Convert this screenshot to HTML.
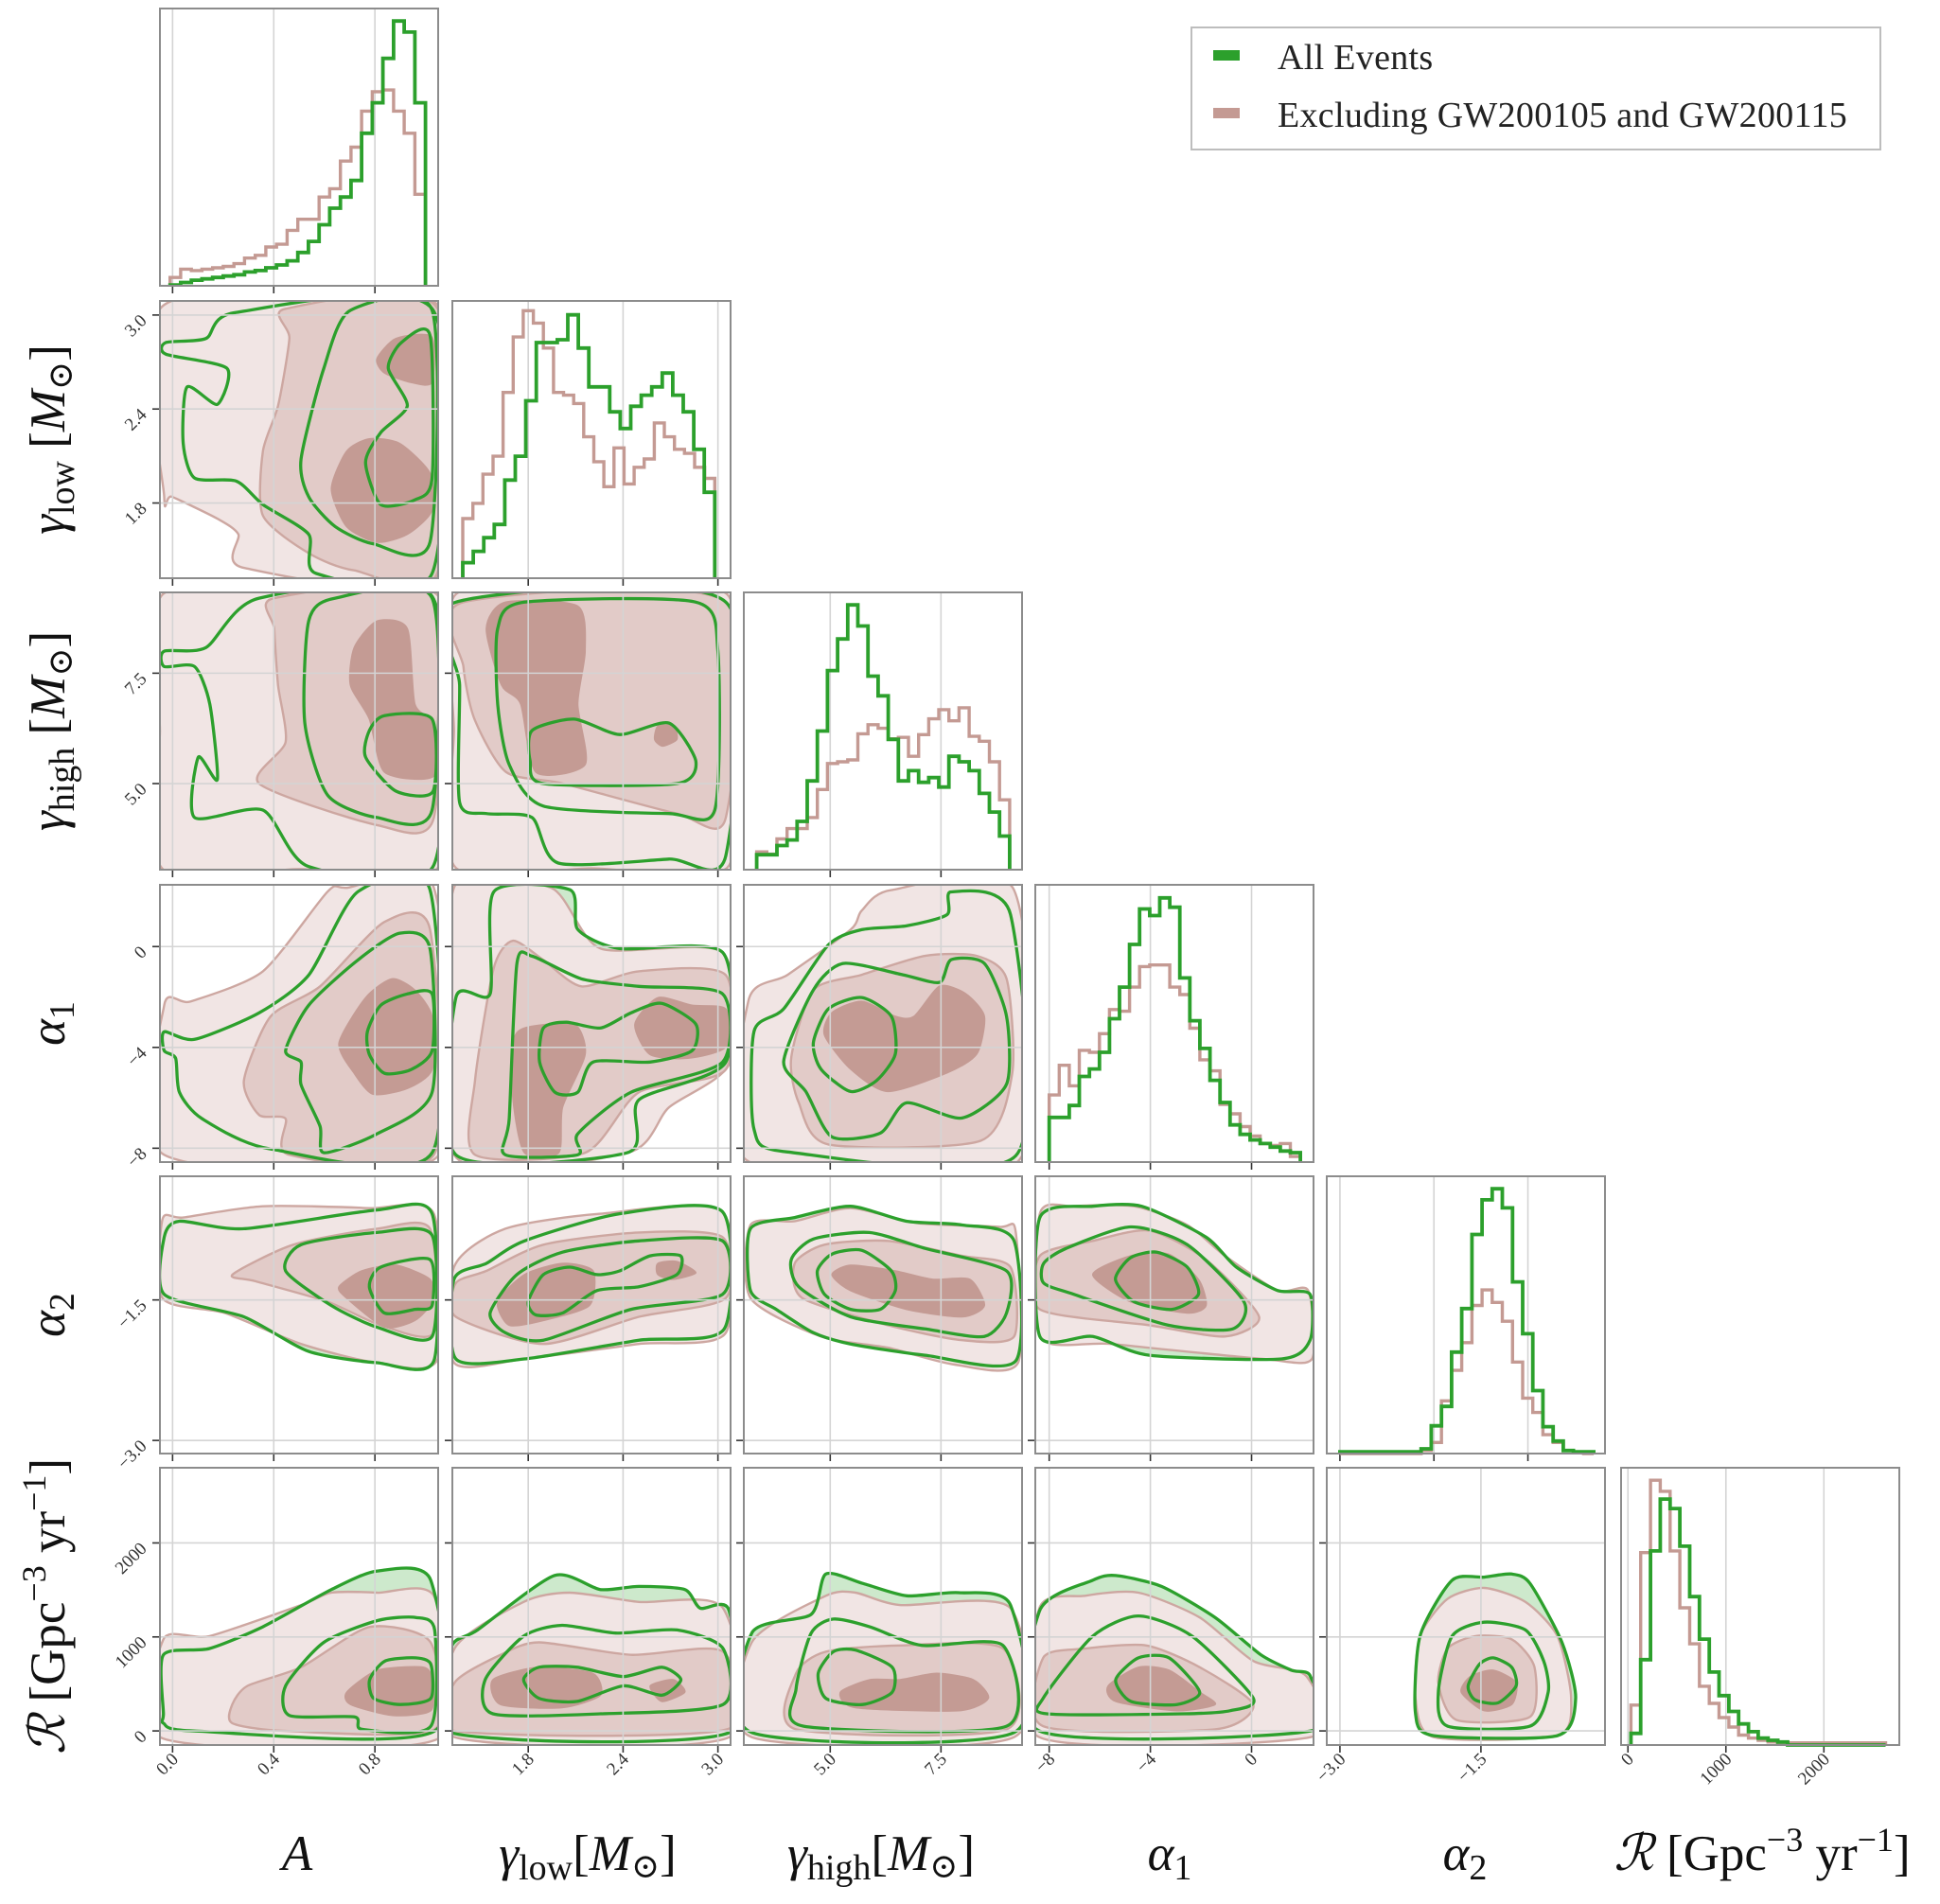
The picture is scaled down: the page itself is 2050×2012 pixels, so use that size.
<!DOCTYPE html>
<html><head><meta charset="utf-8"><title>Corner plot</title>
<style>
html,body{margin:0;padding:0;background:#fff;}
svg{display:block;font-family:"Liberation Serif","DejaVu Serif",serif;}
</style></head>
<body>
<svg id="chart" xmlns="http://www.w3.org/2000/svg" width="2050" height="2012" viewBox="0 0 2050 2012">
<rect x="0" y="0" width="2050" height="2012" fill="#fff"/>
<g id="panels"></g>
<g id="labels"></g>
<g id="legend">
  <rect x="1259" y="29" width="728" height="129" fill="#fff" stroke="#bdbdbd" stroke-width="2"/>
  <g>
    <rect x="1282" y="53" width="28" height="11" fill="#2ca02c"/>
    <text x="1350" y="73" font-size="38" letter-spacing="0.3" fill="#222">All Events</text>
  </g>
  <g>
    <rect x="1282" y="114" width="28" height="11" fill="#c49a93"/>
    <text x="1350" y="134" font-size="38" letter-spacing="0.3" fill="#222">Excluding GW200105 and GW200115</text>
  </g>
</g>
</svg>
<script>
const paramNames = ["A","gl","gh","a1","a2","R"];
const xRanges = [[-0.05,1.05],[1.32,3.08],[3.05,9.33],[-8.55,2.45],[-3.14,-0.18],[-70,2770]];
const yRanges = [[0,1],[1.32,3.09],[3.05,9.33],[-8.55,2.45],[-3.14,-0.18],[-150,2800]];
const tickVals = [[0,0.4,0.8],[1.8,2.4,3.0],[5.0,7.5],[-8,-4,0],[-3.0,-1.5],[0,1000,2000]];
const tickLabels = [["0.0","0.4","0.8"],["1.8","2.4","3.0"],["5.0","7.5"],["\u22128","\u22124","0"],["\u22123.0","\u22121.5"],["0","1000","2000"]];
const histGridVals = [[0,0.4,0.8],[1.8,2.4,3.0],[5.0,7.5],[-8,-4,0],[-3,-2,-1],[0,1000,2000]];

const histRanges = [[-0.01,1.0],[1.386,2.98],[3.34,9.05],[-8,1.93],[-3.0,-0.3],[30,2630]];
const histGreen_A = [0.003,0.012,0.02,0.025,0.03,0.035,0.04,0.05,0.055,0.065,0.075,0.09,0.12,0.16,0.22,0.28,0.32,0.38,0.55,0.66,0.82,0.955,0.915,0.66];
const histPink_A = [0.03,0.06,0.055,0.06,0.065,0.07,0.08,0.1,0.11,0.14,0.15,0.2,0.24,0.24,0.32,0.35,0.45,0.5,0.63,0.7,0.706,0.63,0.55,0.33];
const histGreen_gl = [0.056,0.097,0.146,0.194,0.354,0.44,0.64,0.85,0.85,0.86,0.95,0.83,0.69,0.69,0.6,0.54,0.62,0.66,0.69,0.74,0.66,0.6,0.465,0.31];
const histPink_gl = [0.215,0.27,0.375,0.44,0.67,0.87,0.965,0.92,0.83,0.67,0.66,0.63,0.51,0.42,0.33,0.47,0.34,0.4,0.43,0.56,0.51,0.465,0.45,0.40,0.36];
const histGreen_gh = [0.054,0.054,0.087,0.107,0.174,0.32,0.5,0.718,0.832,0.955,0.879,0.698,0.627,0.47,0.32,0.357,0.315,0.332,0.298,0.409,0.389,0.357,0.275,0.208,0.121];
const histPink_gh = [0.064,0.056,0.111,0.148,0.148,0.188,0.289,0.383,0.389,0.396,0.49,0.523,0.51,0.472,0.477,0.409,0.487,0.544,0.577,0.537,0.584,0.481,0.463,0.389,0.252];
const histGreen_a1 = [0.161,0.161,0.204,0.309,0.336,0.396,0.517,0.631,0.785,0.913,0.889,0.953,0.919,0.664,0.51,0.41,0.295,0.215,0.134,0.1,0.08,0.067,0.054,0.04,0.034];
const histPink_a1 = [0.242,0.349,0.275,0.403,0.396,0.463,0.55,0.544,0.631,0.705,0.711,0.711,0.631,0.604,0.483,0.369,0.329,0.208,0.174,0.128,0.094,0.067,0.06,0.067,0.02];
const histGreen_a2 = [0.006,0.006,0.006,0.006,0.006,0.006,0.006,0.006,0.017,0.1,0.17,0.366,0.523,0.79,0.915,0.955,0.886,0.619,0.432,0.227,0.097,0.045,0.011,0.006,0.006];
const histPink_a2 = [0,0,0,0,0,0,0,0,0.011,0.04,0.19,0.3,0.4,0.534,0.59,0.545,0.477,0.33,0.2,0.148,0.068,0.04,0.011,0.005,0];
const histGreen_R = [0.042,0.308,0.7,0.887,0.853,0.717,0.535,0.382,0.263,0.178,0.121,0.076,0.048,0.025,0.017,0.011,0,0,0,0,0,0,0,0,0,0];
const histPink_R = [0.144,0.694,0.955,0.915,0.7,0.495,0.365,0.212,0.15,0.099,0.065,0.036,0.025,0.017,0.011,0.008,0.008,0.008,0.008,0.008,0.008,0.008,0.008,0.008,0.008,0.008];
const histGreen = [histGreen_A,histGreen_gl,histGreen_gh,histGreen_a1,histGreen_a2,histGreen_R];
const histPink = [histPink_A,histPink_gl,histPink_gh,histPink_a1,histPink_a2,histPink_R];

const C_gl_A = {
 po:[-0.033,3.065, 1.048,3.065, 1.048,1.34, 0.282,1.386, 0.26,1.6, 0.177,1.70, -0.003,1.84, -0.033,1.84],
 pm:[0.447,3.04, 1.048,3.04, 1.048,1.36, 0.718,1.37, 0.538,1.48, 0.357,1.72, 0.357,2.13, 0.417,2.42, 0.462,2.85],
 pi:[[0.808,2.72, 0.883,2.85, 1.025,2.86, 1.025,2.57, 0.943,2.57, 0.838,2.63],[0.628,1.89, 0.688,2.13, 0.778,2.21, 0.898,2.18, 1.018,1.99, 1.025,1.75, 0.928,1.60, 0.808,1.55, 0.688,1.65]],
 go:[-0.026,2.825, 0.132,2.85, 0.252,3.017, 1.026,3.04, 1.026,1.35, 0.568,1.35, 0.538,1.60, 0.357,1.79, 0.252,1.94, 0.087,1.96, 0.042,2.18, 0.057,2.54, 0.177,2.43, 0.215,2.66, -0.026,2.75],
 gm:[0.703,3.03, 0.598,2.66, 0.508,2.08, 0.538,1.84, 0.643,1.65, 0.793,1.54, 1.018,1.55, 1.026,3.03],
 gi:[0.853,2.66, 0.905,2.825, 1.018,2.87, 1.026,1.96, 0.958,1.82, 0.823,1.79, 0.763,2.06, 0.823,2.25, 0.928,2.42]};
const C_gh_A = {
 po:[-0.04,9.28, 0.5,9.3, 1.045,9.28, 1.05,6.2, 1.045,3.07, 0.5,3.06, -0.04,3.07, -0.05,6.2],
 pm:[0.402,9.2, 1.026,9.24, 1.033,4.23, 0.808,4.06, 0.342,5.0, 0.447,5.94, 0.417,7.23, 0.402,8.51],
 pi:[[0.718,8.08, 0.808,8.68, 0.928,8.51, 0.958,6.8, 1.033,6.37, 1.033,5.17, 0.838,5.26, 0.778,6.46, 0.703,7.23]],
 go:[-0.033,8.0, 0.132,8.08, 0.342,9.2, 1.026,9.24, 1.033,3.16, 0.538,3.12, 0.357,4.4, 0.087,4.23, 0.102,5.6, 0.177,5.09, 0.147,6.8, 0.087,7.65, -0.033,7.65],
 gm:[0.538,8.68, 0.643,9.2, 1.026,9.2, 1.026,4.4, 0.808,4.23, 0.613,4.74, 0.523,6.37],
 gi:[0.778,6.2, 0.838,6.54, 1.026,6.46, 1.03,4.83, 0.883,4.83, 0.763,5.6]};
const C_gh_gl = {
 po:[1.34,9.28, 2.2,9.3, 3.06,9.28, 3.07,6.2, 3.06,3.1, 2.2,3.08, 1.34,3.1, 1.33,6.2],
 pm:[1.39,9.11, 3.05,9.11, 3.05,4.23, 2.74,4.32, 2.02,5.0, 1.66,5.26, 1.46,6.46, 1.39,7.65],
 pi:[[1.535,8.51, 1.655,9.11, 2.113,9.02, 2.16,8.0, 2.113,6.8, 2.16,5.43, 1.848,5.26, 1.752,6.8, 1.631,7.23],[2.62,6.3, 2.72,6.3, 2.74,6.0, 2.65,5.85, 2.60,6.0]],
 go:[1.342,9.11, 3.05,9.11, 3.05,3.37, 2.69,3.29, 1.99,3.2, 1.824,4.23, 1.535,4.32, 1.366,4.57, 1.366,7.23],
 gm:[1.607,8.51, 1.776,9.11, 2.86,9.11, 3.0,8.0, 2.98,4.4, 2.69,4.32, 1.896,4.49, 1.68,5.43, 1.607,6.8],
 gi:[1.824,6.2, 2.09,6.46, 2.378,6.11, 2.69,6.37, 2.86,5.51, 2.74,5.0, 1.896,5.0, 1.812,5.51]};
const C_a1_A = {
 po:[-0.033,-2.33, 0.072,-2.18, 0.357,-0.98, 0.613,2.18, 0.688,2.33, 1.033,2.33, 1.048,-8.33, -0.033,-8.26],
 pm:[0.282,-5.33, 0.387,-2.78, 0.583,-1.58, 0.838,0.98, 1.018,0.68, 1.033,-8.26, 0.462,-8.26, 0.447,-6.83, 0.342,-6.68],
 pi:[[0.658,-3.83, 0.763,-2.03, 0.868,-1.28, 0.958,-1.73, 1.026,-2.78, 1.026,-4.88, 0.928,-5.63, 0.793,-5.86, 0.718,-5.03]],
 go:[-0.033,-3.38, 0.087,-3.68, 0.342,-2.63, 0.538,-1.13, 0.733,2.18, 1.018,2.25, 1.026,-8.18, 0.387,-8.03, 0.117,-6.83, 0.027,-5.78, 0.012,-4.43, -0.033,-4.13],
 gm:[0.447,-4.13, 0.538,-2.33, 0.733,-0.53, 0.898,0.53, 1.018,-0.08, 1.026,-5.78, 0.808,-7.43, 0.598,-8.18, 0.583,-7.13, 0.508,-5.48, 0.508,-4.58],
 gi:[0.77,-3.38, 0.823,-2.33, 0.928,-1.88, 1.026,-1.88, 1.026,-4.13, 0.943,-4.88, 0.838,-5.03, 0.778,-4.28]};
const C_a1_gl = {
 po:[1.33,2.33, 1.945,2.33, 2.258,-0.08, 3.03,-0.23, 3.077,-4.58, 2.69,-6.38, 2.427,-8.18, 1.33,-8.26],
 pm:[1.463,-5.33, 1.583,-0.83, 1.704,0.23, 1.896,-0.53, 2.137,-1.58, 2.5,-0.98, 3.05,-1.13, 3.05,-4.88, 2.5,-5.78, 2.16,-8.18, 1.463,-8.26],
 pi:[[1.704,-3.83, 1.776,-3.23, 2.09,-3.08, 2.16,-4.28, 2.017,-6.38, 1.993,-8.18, 1.776,-8.18, 1.704,-6.08],[2.475,-3.08, 2.62,-2.03, 2.836,-2.33, 3.05,-2.48, 3.05,-3.98, 2.81,-4.43, 2.57,-4.28]],
 go:[1.342,-2.03, 1.559,-1.88, 1.583,2.18, 2.065,2.25, 2.113,0.68, 2.378,-0.08, 3.03,-0.23, 3.05,-4.58, 2.5,-6.08, 2.427,-8.18, 1.342,-8.26],
 gm:[1.68,-6.83, 1.728,-0.68, 1.824,-0.38, 2.137,-1.28, 2.5,-1.58, 3.03,-1.88, 3.03,-4.58, 2.45,-5.78, 2.113,-7.43, 2.113,-8.26, 1.655,-8.26],
 gi:[1.872,-4.58, 1.896,-3.23, 2.04,-3.0, 2.258,-3.23, 2.45,-2.63, 2.643,-2.25, 2.86,-3.08, 2.836,-4.13, 2.57,-4.58, 2.21,-4.58, 2.113,-5.78, 1.969,-5.78]};
const C_a1_gh = {
 po:[3.15,-2.17, 4.04,-1.12, 5.46,0.67, 5.71,1.42, 6.38,2.24, 9.15,2.24, 9.24,-8.52, 3.15,-8.52],
 pm:[4.12,-4.41, 4.62,-1.72, 5.71,-1.12, 7.14,-0.37, 8.31,-0.37, 8.98,-1.27, 9.11,-5.01, 8.4,-7.7, 4.96,-7.85, 4.29,-6.2],
 pi:[[4.87,-3.51, 5.04,-2.62, 5.71,-2.17, 6.47,-2.77, 6.89,-2.77, 7.47,-1.57, 8.06,-1.87, 8.48,-2.77, 8.31,-4.26, 7.64,-5.01, 6.3,-5.75, 5.46,-4.86]],
 go:[3.28,-3.36, 3.95,-2.47, 4.96,0.07, 5.71,0.67, 6.72,0.82, 7.64,1.27, 7.73,2.17, 9.07,1.27, 9.19,-8.3, 4.04,-8.15, 3.28,-7.25],
 gm:[3.95,-4.56, 4.62,-1.72, 5.29,-0.67, 6.64,-1.12, 7.47,-1.42, 7.73,-0.52, 8.48,-0.67, 8.98,-2.77, 8.98,-5.46, 7.98,-6.8, 6.72,-6.2, 6.13,-7.4, 5.04,-7.55, 4.45,-5.75],
 gi:[4.62,-3.81, 4.96,-2.47, 5.71,-2.02, 6.38,-2.77, 6.47,-4.26, 6.05,-5.31, 5.46,-5.75, 4.79,-4.86]};
const C_a2_A = {
 po:[-0.04,-0.64, 0.042,-0.62, 0.357,-0.5, 0.778,-0.52, 1.033,-0.58, 1.048,-2.13, 0.808,-2.17, 0.508,-1.97, 0.207,-1.64, -0.04,-1.48],
 pm:[0.237,-1.23, 0.477,-0.91, 0.808,-0.74, 1.018,-0.74, 1.033,-1.85, 0.823,-1.77, 0.613,-1.52, 0.327,-1.3],
 pi:[[0.658,-1.36, 0.748,-1.19, 0.883,-1.13, 1.018,-1.28, 1.026,-1.52, 0.958,-1.72, 0.838,-1.79, 0.688,-1.48]],
 go:[-0.033,-0.83, 0.027,-0.66, 0.282,-0.74, 0.808,-0.54, 1.026,-0.58, 1.033,-2.15, 0.808,-2.17, 0.538,-2.05, 0.282,-1.68, -0.033,-1.44],
 gm:[0.447,-1.19, 0.508,-0.91, 0.808,-0.78, 1.026,-0.81, 1.026,-1.89, 0.808,-1.79, 0.628,-1.56],
 gi:[0.778,-1.36, 0.823,-1.15, 1.018,-1.07, 1.026,-1.56, 0.958,-1.6, 0.838,-1.64]};
const C_a2_gl = {
 po:[1.33,-1.15, 1.655,-0.74, 2.258,-0.58, 3.03,-0.56, 3.05,-1.85, 2.5,-1.97, 1.776,-2.13, 1.33,-2.17],
 pm:[1.342,-1.32, 1.535,-1.19, 1.896,-0.91, 2.5,-0.78, 3.03,-0.83, 3.05,-1.48, 2.5,-1.68, 1.896,-1.97, 1.342,-1.68],
 pi:[[1.607,-1.52, 1.776,-1.23, 2.017,-1.11, 2.21,-1.19, 2.186,-1.56, 1.896,-1.72, 1.68,-1.77],[2.62,-1.11, 2.74,-1.09, 2.86,-1.21, 2.716,-1.28, 2.62,-1.23]],
 go:[1.33,-1.28, 1.535,-1.11, 1.776,-0.87, 2.378,-0.58, 3.03,-0.56, 3.04,-1.81, 2.5,-1.93, 1.776,-2.13, 1.342,-2.13],
 gm:[1.559,-1.64, 1.728,-1.23, 2.017,-0.99, 2.5,-0.87, 3.03,-0.87, 3.03,-1.44, 2.45,-1.6, 1.896,-1.93, 1.655,-1.85],
 gi:[1.8,-1.52, 1.896,-1.23, 2.065,-1.15, 2.234,-1.23, 2.378,-1.19, 2.57,-1.03, 2.764,-1.03, 2.74,-1.23, 2.5,-1.36, 2.234,-1.4, 2.017,-1.64, 1.848,-1.66]};
const C_a2_gh = {
 po:[3.2,-0.7, 4.2,-0.66, 5.46,-0.52, 6.97,-0.68, 8.82,-0.72, 9.19,-0.78, 9.24,-2.17, 7.81,-2.19, 6.3,-2.01, 4.79,-1.89, 3.2,-1.48],
 pm:[4.2,-1.11, 4.87,-0.91, 6.3,-0.87, 7.98,-1.03, 9.07,-1.15, 9.15,-1.89, 7.98,-1.93, 6.3,-1.77, 4.37,-1.48],
 pi:[[5.04,-1.23, 5.46,-1.13, 6.47,-1.19, 7.31,-1.28, 8.15,-1.28, 8.48,-1.56, 7.98,-1.68, 6.72,-1.6, 5.46,-1.4]],
 go:[3.2,-0.74, 4.2,-0.62, 5.46,-0.5, 6.72,-0.66, 7.98,-0.7, 9.15,-0.87, 9.19,-2.15, 7.14,-2.09, 5.46,-1.97, 4.62,-1.85, 3.78,-1.6, 3.2,-1.4],
 gm:[4.12,-1.07, 4.62,-0.85, 5.88,-0.78, 7.14,-0.95, 8.98,-1.19, 8.98,-1.64, 8.48,-1.89, 7.14,-1.81, 5.46,-1.68, 4.29,-1.36],
 gi:[4.71,-1.19, 5.04,-1.01, 5.71,-0.97, 6.38,-1.19, 6.47,-1.4, 6.13,-1.6, 5.46,-1.6, 4.87,-1.44]};
const C_a2_a1 = {
 po:[-8.37,-0.58, -7.03,-0.5, -4.64,-0.5, -2.54,-0.7, -1.05,-1.03, 1.04,-1.4, 2.24,-1.4, 2.39,-2.13, 0.45,-2.13, -5.53,-1.97, -8.37,-1.89],
 pm:[-8.37,-1.03, -6.28,-0.87, -4.04,-0.76, -1.8,-1.07, 0.3,-1.68, -1.05,-1.89, -4.04,-1.77, -8.37,-1.6],
 pi:[[-6.28,-1.23, -4.79,-1.03, -3.29,-1.01, -2.1,-1.28, -1.8,-1.56, -2.54,-1.64, -4.79,-1.52]],
 go:[-8.37,-0.62, -6.28,-0.5, -4.34,-0.5, -1.8,-0.83, -0.6,-1.15, 1.04,-1.4, 2.31,-1.44, 2.31,-1.93, 1.19,-2.13, -4.04,-2.09, -6.28,-1.89, -8.37,-1.89],
 gm:[-8.22,-1.11, -7.33,-0.95, -4.79,-0.72, -2.54,-0.91, -0.3,-1.52, -0.75,-1.81, -3.29,-1.77, -7.03,-1.44, -8.22,-1.32],
 gi:[-5.38,-1.28, -4.79,-1.05, -3.74,-0.99, -2.54,-1.15, -2.1,-1.44, -3.14,-1.6, -4.64,-1.52]};
const C_R_A = {
 po:[-0.036,975, 0.145,1008, 0.508,1339, 0.628,1471, 0.81,1471, 1.036,1421, 1.05,-83, -0.036,-83],
 pm:[0.236,281, 0.296,479, 0.508,678, 0.78,1107, 1.02,942, 1.036,17, 0.447,0, 0.236,83],
 pi:[[0.689,413, 0.81,645, 0.991,678, 1.027,545, 1.021,215, 0.87,165, 0.704,281]],
 go:[-0.036,182, -0.036,810, 0.145,876, 0.356,1107, 0.628,1504, 0.81,1702, 1.021,1603, 1.036,0, 0.085,0, -0.036,83],
 gm:[0.447,479, 0.598,942, 0.81,1174, 0.961,1207, 1.036,1074, 1.021,50, 0.749,17, 0.719,149, 0.462,165],
 gi:[0.779,545, 0.84,744, 0.961,777, 1.021,711, 1.021,347, 0.9,281, 0.795,347]};
const C_R_gl = {
 po:[1.334,876, 1.771,1372, 2.062,1471, 2.5,1372, 3.033,1306, 3.072,-66, 1.334,-66],
 pm:[1.334,512, 1.625,810, 1.868,942, 2.45,810, 3.033,843, 3.057,17, 1.334,0],
 pi:[[1.577,545, 1.868,678, 2.208,612, 2.256,380, 2.014,248, 1.625,281],[2.572,479, 2.718,545, 2.79,413, 2.645,314]],
 go:[1.31,876, 1.48,1074, 1.965,1653, 2.256,1504, 2.5,1537, 2.79,1504, 2.887,1306, 3.072,1273, 3.072,-17, 1.31,-17],
 gm:[1.528,545, 1.771,1008, 2.014,1124, 2.353,1041, 2.742,1074, 3.033,876, 3.033,281, 2.256,182, 1.577,182],
 gi:[1.771,545, 1.868,678, 2.11,678, 2.402,579, 2.645,678, 2.766,545, 2.645,380, 2.402,479, 2.11,314, 1.868,347]};
const C_R_gh = {
 po:[3.23,942, 4.9,1438, 5.57,1471, 6.57,1339, 9.07,1306, 9.15,-66, 3.23,-66],
 pm:[4.23,612, 4.9,843, 6.57,909, 8.9,876, 8.98,17, 4.23,17],
 pi:[[5.23,413, 5.9,545, 6.57,545, 7.4,612, 8.23,545, 8.57,347, 7.9,215, 5.57,248]],
 go:[3.23,1041, 4.57,1240, 4.9,1669, 5.73,1570, 6.73,1438, 7.9,1471, 9.07,1339, 9.15,-17, 3.23,-17],
 gm:[4.23,446, 4.57,1041, 5.07,1190, 5.9,1107, 7.07,909, 8.9,909, 8.98,50, 4.4,50],
 gi:[4.73,612, 5.07,843, 5.57,860, 6.4,678, 6.4,413, 5.73,281, 4.9,347]};
const C_R_a1 = {
 po:[-8.39,1306, -6.58,1438, -4.47,1471, -2.05,1207, 0.07,744, 2.18,579, 2.33,-66, -8.39,-66],
 pm:[-8.24,777, -6.58,876, -4.16,909, -2.05,678, 0.07,281, -1.44,17, -8.24,50],
 pi:[[-5.67,479, -4.47,678, -3.26,645, -2.05,413, -1.44,281, -2.95,215, -5.37,314]],
 go:[-8.39,1273, -6.28,1603, -5.37,1653, -3.56,1537, -1.44,1207, 0.37,810, 1.58,645, 2.33,579, 2.33,0, -8.39,0],
 gm:[-8.24,347, -6.28,1008, -4.47,1223, -2.35,1008, 0.07,347, -0.84,215, -2.65,182, -8.09,182],
 gi:[-5.37,545, -4.47,777, -3.26,777, -2.05,413, -2.95,281, -4.77,314]};
const C_R_a2 = {
 po:[-2.196,347, -2.148,1008, -1.855,1405, -1.466,1521, -1.027,1372, -0.686,1008, -0.54,347, -0.686,-50, -2.0,-66],
 pm:[-1.953,512, -1.855,876, -1.563,1008, -1.173,975, -0.93,678, -0.978,149, -1.758,116],
 pi:[[-1.709,413, -1.612,579, -1.368,645, -1.125,512, -1.173,281, -1.466,215]],
 go:[-2.196,182, -2.148,1008, -1.807,1603, -1.466,1636, -1.173,1669, -0.978,1570, -0.638,942, -0.492,347, -0.686,-50, -2.0,-50],
 gm:[-1.953,413, -1.807,1008, -1.466,1157, -1.027,1074, -0.832,744, -0.784,413, -0.978,50, -1.855,50],
 gi:[-1.636,479, -1.514,711, -1.368,777, -1.173,678, -1.125,479, -1.32,298, -1.563,331]};
const contourPanels = [
 [1,0,C_gl_A],[2,0,C_gh_A],[2,1,C_gh_gl],
 [3,0,C_a1_A],[3,1,C_a1_gl],[3,2,C_a1_gh],
 [4,0,C_a2_A],[4,1,C_a2_gl],[4,2,C_a2_gh],[4,3,C_a2_a1],
 [5,0,C_R_A],[5,1,C_R_gl],[5,2,C_R_gh],[5,3,C_R_a1],[5,4,C_R_a2]];

const colX = [169,478,786,1094,1402,1713];
const rowY = [9,318,626,935,1243,1551];
const PW = 294, PH = 293;
const NS = "http://www.w3.org/2000/svg";
const GREEN = "#2ca02c", PINK = "#c49a93";

function mk(tag, attrs, parent){
  const e = document.createElementNS(NS, tag);
  for (const k in attrs) e.setAttribute(k, attrs[k]);
  if (parent) parent.appendChild(e);
  return e;
}
function sx(c, v){ const r = xRanges[c]; return colX[c] + (v - r[0]) / (r[1] - r[0]) * PW; }
function sy(r, v){ const g = yRanges[r]; return rowY[r] + PH - (v - g[0]) / (g[1] - g[0]) * PH; }
function hy(r, v){ return rowY[r] + PH - v * PH; }

function smoothPath(pts){
  const n = pts.length; if (n < 3) return "";
  let d = "M" + pts[0][0].toFixed(1) + "," + pts[0][1].toFixed(1);
  const t = 0.12;
  for (let i = 0; i < n; i++){
    const p0 = pts[(i-1+n)%n], p1 = pts[i], p2 = pts[(i+1)%n], p3 = pts[(i+2)%n];
    const c1x = p1[0] + (p2[0]-p0[0])*t, c1y = p1[1] + (p2[1]-p0[1])*t;
    const c2x = p2[0] - (p3[0]-p1[0])*t, c2y = p2[1] - (p3[1]-p1[1])*t;
    d += "C" + c1x.toFixed(1)+","+c1y.toFixed(1)+" "+c2x.toFixed(1)+","+c2y.toFixed(1)+" "+p2[0].toFixed(1)+","+p2[1].toFixed(1);
  }
  return d + "Z";
}
function toPts(flat, r, c){
  const out = [];
  for (let i = 0; i < flat.length; i += 2) out.push([sx(c, flat[i]), sy(r, flat[i+1])]);
  return out;
}

const root = document.getElementById("panels");
const defs = mk("defs", {}, root);

function drawFrameAndGrid(g, r, c, isHist){
  const x0 = colX[c], y0 = rowY[r];
  const gx = isHist ? histGridVals[c] : tickVals[c];
  gx.forEach(v => {
    const X = sx(c, v);
    const l = mk("line", {x1:X, y1:y0, x2:X, y2:y0+PH, stroke:"#d4d4d4", "stroke-width":1.6}, g);
    
    
    const t = mk("line", {x1:X, y1:y0+PH, x2:X, y2:y0+PH+8, stroke:"#333", "stroke-width":1.6}, g);
    
    
  });
  if (!isHist){
    tickVals[r].forEach(v => {
      const Y = sy(r, v);
      const l = mk("line", {x1:x0, y1:Y, x2:x0+PW, y2:Y, stroke:"#d4d4d4", "stroke-width":1.6}, g);
      
      
      const t = mk("line", {x1:x0-8, y1:Y, x2:x0, y2:Y, stroke:"#333", "stroke-width":1.6}, g);
      
      
    });
  }
}
function drawFrame(g, r, c){
  const f = mk("rect", {x:colX[c], y:rowY[r], width:PW, height:PH, fill:"none", stroke:"#8c8c8c", "stroke-width":2}, g);
  
  
}

for (let c = 0; c < 6; c++){
  const g = mk("g", {}, root);
  
  
  drawFrameAndGrid(g, c, c, true);
  [[histPink[c], PINK, 'hist-excluding-step'], [histGreen[c], GREEN, 'hist-all-events-step']].forEach(([vals, col, nm]) => {
    const rg = histRanges[c], w = (rg[1]-rg[0]) / vals.length;
    let d = "M" + sx(c, rg[0]).toFixed(1) + "," + hy(c, 0).toFixed(1);
    vals.forEach((v, i) => {
      const xa = sx(c, rg[0] + i*w), xb = sx(c, rg[0] + (i+1)*w), Y = hy(c, v);
      d += "L" + xa.toFixed(1) + "," + Y.toFixed(1) + "L" + xb.toFixed(1) + "," + Y.toFixed(1);
    });
    d += "L" + sx(c, rg[1]).toFixed(1) + "," + hy(c, 0).toFixed(1);
    const p = mk("path", {d:d, fill:"none", stroke:col, "stroke-width":col===GREEN?3.8:3.4, "stroke-linejoin":"miter"}, g);
    
    
  });
  drawFrame(g, c, c);
}

contourPanels.forEach(([r, c, C], idx) => {
  const g = mk("g", {}, root);
  
  
  const cp = mk("clipPath", {id:"clip"+idx}, defs);
  mk("rect", {x:colX[c]+1, y:rowY[r]+1, width:PW-2, height:PH-2}, cp);
  const inner = mk("g", {"clip-path":"url(#clip"+idx+")"}, g);
  const gf = mk("path", {d:smoothPath(toPts(C.go, r, c)), fill:"#cde9cc", stroke:"none"}, inner);
  
  
  const pinkLevels = [[C.po, "#f1e5e4"], [C.pm, "#e2cbc8"]];
  pinkLevels.forEach(([pts, fc]) => {
    const p = mk("path", {d:smoothPath(toPts(pts, r, c)), fill:fc, stroke:"#cda7a1", "stroke-width":2.4}, inner);
    
    
  });
  C.pi.forEach(pts => {
    const p = mk("path", {d:smoothPath(toPts(pts, r, c)), fill:"#c49b94", stroke:"#c49b94", "stroke-width":1.5}, inner);
    
    
  });
  [C.go, C.gm, C.gi].forEach(pts => {
    const p = mk("path", {d:smoothPath(toPts(pts, r, c)), fill:"none", stroke:GREEN, "stroke-width":3.3}, inner);
    
    
  });
  drawFrameAndGrid(g, r, c, false);
  drawFrame(g, r, c);
});

const labG = document.getElementById("labels");
for (let c = 0; c < 6; c++){
  tickVals[c].forEach((v, i) => {
    const X = sx(c, v), Y = rowY[5] + PH + 16;
    const t = mk("text", {x:0, y:0, "font-size":19, fill:"#333", "text-anchor":"end", transform:"translate("+(X+7).toFixed(1)+","+Y+") rotate(-45)"}, labG);
    t.textContent = tickLabels[c][i];
    
    
  });
}
for (let r = 1; r < 6; r++){
  tickVals[r].forEach((v, i) => {
    const Y = sy(r, v), X = colX[0] - 13;
    const t = mk("text", {x:0, y:0, "font-size":19, fill:"#333", "text-anchor":"end", transform:"translate("+X+","+(Y+7).toFixed(1)+") rotate(-45)"}, labG);
    t.textContent = tickLabels[r][i];
    
    
  });
}

const xTitles = [
 {x:314, html:'<tspan font-style="italic">A</tspan>'},
 {x:621, html:'<tspan font-style="italic">γ</tspan><tspan font-size="38" dy="10">low</tspan><tspan dy="-10">[</tspan><tspan font-style="italic">M</tspan><tspan font-size="36" dy="8">⊙</tspan><tspan dy="-8">]</tspan>'},
 {x:931, html:'<tspan font-style="italic">γ</tspan><tspan font-size="38" dy="10">high</tspan><tspan dy="-10">[</tspan><tspan font-style="italic">M</tspan><tspan font-size="36" dy="8">⊙</tspan><tspan dy="-8">]</tspan>'},
 {x:1236, html:'<tspan font-style="italic">α</tspan><tspan font-size="38" dy="10">1</tspan>'},
 {x:1548, html:'<tspan font-style="italic">α</tspan><tspan font-size="38" dy="10">2</tspan>'},
 {x:1862, html:'<tspan font-style="italic">ℛ</tspan> [Gpc<tspan font-size="36" dy="-20">−3</tspan><tspan dy="20"> yr</tspan><tspan font-size="36" dy="-20">−1</tspan><tspan dy="20">]</tspan>'}
];
xTitles.forEach((o, i) => {
  const t = mk("text", {x:o.x, y:1976, "font-size":53, fill:"#111", "text-anchor":"middle"}, labG);
  t.innerHTML = o.html;
  
  
});
const yTitles = [
 {r:1, html:'<tspan font-style="italic">γ</tspan><tspan font-size="38" dy="10">low</tspan><tspan dy="-10"> [</tspan><tspan font-style="italic">M</tspan><tspan font-size="36" dy="8">⊙</tspan><tspan dy="-8">]</tspan>'},
 {r:2, html:'<tspan font-style="italic">γ</tspan><tspan font-size="38" dy="10">high</tspan><tspan dy="-10"> [</tspan><tspan font-style="italic">M</tspan><tspan font-size="36" dy="8">⊙</tspan><tspan dy="-8">]</tspan>'},
 {r:3, html:'<tspan font-style="italic">α</tspan><tspan font-size="38" dy="10">1</tspan>'},
 {r:4, html:'<tspan font-style="italic">α</tspan><tspan font-size="38" dy="10">2</tspan>'},
 {r:5, html:'<tspan font-style="italic">ℛ</tspan> [Gpc<tspan font-size="36" dy="-20">−3</tspan><tspan dy="20"> yr</tspan><tspan font-size="36" dy="-20">−1</tspan><tspan dy="20">]</tspan>'}
];
yTitles.forEach(o => {
  const cy = rowY[o.r] + PH/2;
  const t = mk("text", {x:0, y:0, "font-size":53, fill:"#111", "text-anchor":"middle", transform:"translate(68,"+cy+") rotate(-90)"}, labG);
  t.innerHTML = o.html;
  
  
});
</script>
</body></html>
